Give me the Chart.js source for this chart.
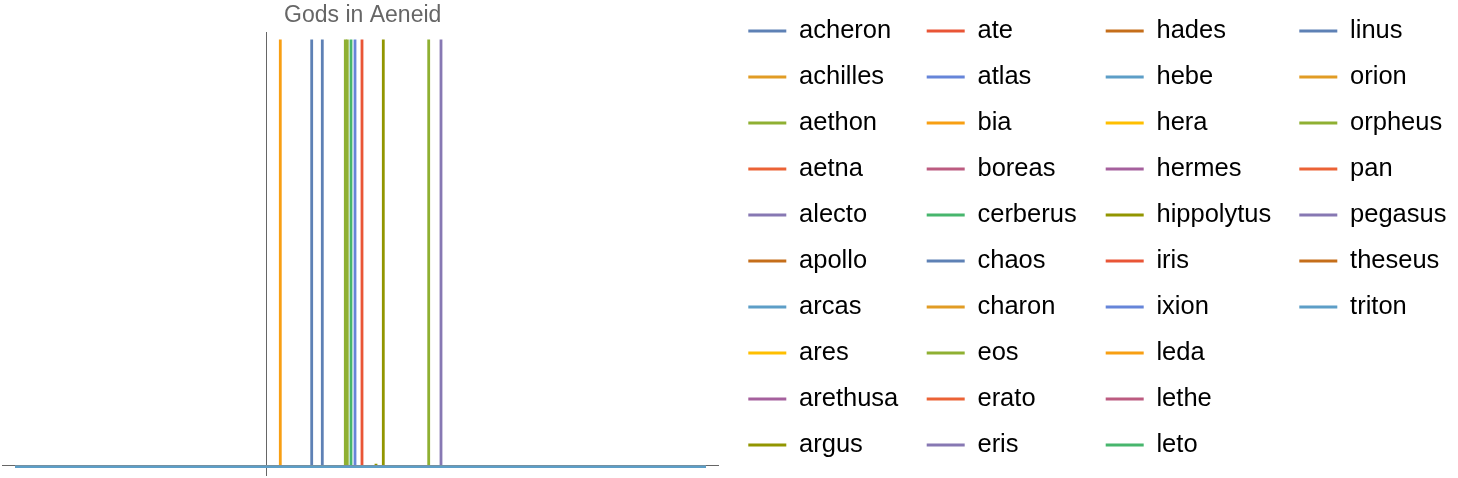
<!DOCTYPE html>
<html>
<head>
<meta charset="utf-8">
<title>Gods in Aeneid</title>
<script src="https://cdn.jsdelivr.net/npm/chart.js@4.4.1/dist/chart.umd.min.js"></script>
<style>
  html, body { margin: 0; padding: 0; background: #fff; }
  #godsChart { display: block; }
</style>
</head>
<body>
<canvas id="godsChart" width="1458" height="478"></canvas>
<script>
// series names, in legend order
const gods = [
  'acheron', 'achilles', 'aethon', 'aetna', 'alecto', 'apollo', 'arcas', 'ares', 'arethusa', 'argus',
  'ate', 'atlas', 'bia', 'boreas', 'cerberus', 'chaos', 'charon', 'eos', 'erato', 'eris',
  'hades', 'hebe', 'hera', 'hermes', 'hippolytus', 'iris', 'ixion', 'leda', 'lethe', 'leto',
  'linus', 'orion', 'orpheus', 'pan', 'pegasus', 'theseus', 'triton'
]
// where each god spikes (null = flat at zero) and how high
const peakX = [
  45.7, null, 162.7, null, 175, null, null, null, null, 110,
  null, null, null, null, 85, 56.3, null, 79.3, null, null,
  null, null, 23.5, null, 117.3, 96, 89, 14.3, null, null,
  null, null, 81.3, null, null, null, null
]
const peakY = [
  1, 0, 1, 0, 1, 0, 0, 0, 0, 0.007,
  0, 0, 0, 0, 1, 1, 0, 1, 0, 0,
  0, 0, 0.003, 0, 1, 1, 1, 1, 0, 0,
  0, 0, 1, 0, 0, 0, 0
]
// range covered by every series
const xFirst = -251
const xLast = 440

const palette = [
  '#5E81B5', '#E19C24', '#8FB032', '#EB6235', '#8778B3', '#C56E1A', '#5D9EC7', '#FFBF00',
  '#A5609D', '#929600', '#E95536', '#6685D9', '#F89F13', '#BC5B80', '#47B66D'
]

const fontFamily = "'Liberation Sans', Arial, sans-serif"
const legendColumnWidths = [157.9, 158.5, 173.1, 150, 0, 0]

function buildSeries(i) {
  if (peakX[i] === null) {
    return [{ x: xFirst, y: 0 }, { x: xLast, y: 0 }]
  }
  return [
    { x: xFirst, y: 0 },
    { x: peakX[i], y: 0 },
    { x: peakX[i], y: peakY[i] },
    { x: peakX[i], y: 0 },
    { x: xLast, y: 0 }
  ]
}

// Mathematica-like legend grid: fixed columns, rows 46px apart
const legendPlacement = {
  id: 'legendPlacement',
  beforeDraw(chart) {
    const lg = chart.legend
    lg.left = 727.8
    lg.right = 1458
    lg.top = -2.25
    lg.bottom = 490
    lg.columnSizes = legendColumnWidths.map(w => ({ width: w, height: 0 }))
    const t = chart.titleBlock
    t.left = chart.chartArea.left + 2.7
    t.right = chart.chartArea.right + 2.7
  }
}

const ctx = document.getElementById('godsChart').getContext('2d')
const godsChart = new Chart(ctx, {
  type: 'line',
  data: {
    datasets: gods.map((god, i) => ({
      label: god,
      data: buildSeries(i),
      borderColor: palette[i % palette.length],
      backgroundColor: palette[i % palette.length],
      borderWidth: 2.8,
      pointRadius: 0,
      fill: false,
      tension: 0,
      order: gods.length - i // later series on top, like the original
    }))
  },
  options: {
    responsive: false,
    animation: false,
    events: [],
    layout: { padding: { left: 2, right: 440, top: 0, bottom: 3 } },
    scales: {
      x: {
        type: 'linear',
        min: -264,
        max: 452,
        position: { y: 0.004 },
        grid: { display: false },
        ticks: { display: false },
        border: { color: '#666666', width: 1 }
      },
      y: {
        type: 'linear',
        min: -0.0194,
        max: 1.0175,
        position: { x: 0 },
        grid: { display: false },
        ticks: { display: false },
        border: { color: '#666666', width: 1 }
      }
    },
    plugins: {
      title: {
        display: true,
        text: 'Gods in Aeneid',
        position: 'top',
        fullSize: false,
        color: '#666666',
        font: { family: fontFamily, size: 23, weight: 'normal' },
        padding: { top: 2, bottom: 2.4 }
      },
      legend: {
        position: 'right',
        align: 'start',
        maxWidth: 300,
        labels: {
          color: '#000000',
          font: { family: fontFamily, size: 25.5 },
          boxWidth: 38,
          boxHeight: 3,
          padding: 20.5,
          sort: (a, b) => a.datasetIndex - b.datasetIndex,
          generateLabels(chart) {
            const items = Chart.defaults.plugins.legend.labels.generateLabels(chart)
            items.forEach(it => { it.lineWidth = 0 })
            return items
          }
        }
      },
      tooltip: { enabled: false }
    }
  },
  plugins: [legendPlacement]
})
</script>
</body>
</html>
